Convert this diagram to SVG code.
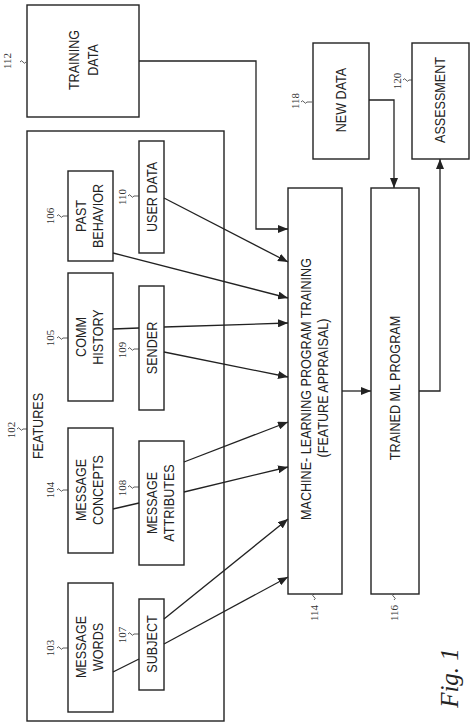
<svg xmlns="http://www.w3.org/2000/svg" width="474" height="728" viewBox="0 0 474 728">
<defs>
<style>
.box{fill:#fff;stroke:#222;stroke-width:1.4}
.t{font-family:"Liberation Sans",Arial,sans-serif;font-size:12.6px;fill:#222;text-anchor:middle;dominant-baseline:central}
.ref{font-family:"Liberation Serif",serif;font-size:11px;fill:#333;text-anchor:middle;dominant-baseline:central}
.sq{fill:none;stroke:#333;stroke-width:0.8}
.ln{fill:none;stroke:#222;stroke-width:1.3}
.fig{font-family:"Liberation Serif",serif;font-style:italic;font-size:25px;fill:#222;text-anchor:middle;dominant-baseline:central}
</style>
<marker id="ah" viewBox="0 0 10 8" refX="10" refY="4" markerWidth="10" markerHeight="8" markerUnits="userSpaceOnUse" orient="auto">
<path d="M0,0 L10,4 L0,8 Z" fill="#222"/>
</marker>
</defs>
<rect width="474" height="728" fill="#fff"/>

<g id="training-data">
<rect class="box" x="27" y="5" width="112" height="112"/>
<text class="t" transform="translate(74,60) rotate(-90) scale(1,1.12)">TRAINING</text>
<text class="t" transform="translate(93,60) rotate(-90) scale(1,1.12)">DATA</text>
<text class="ref" transform="translate(7,61) rotate(-90)">112</text>
<path class="sq" d="M20,62 q1.5,-2.5 3,0 t3,0"/>
</g>

<g id="features">
<rect class="box" x="27" y="131" width="197" height="590"/>
<text class="t" transform="translate(38,426) rotate(-90) scale(1,1.12)">FEATURES</text>
<text class="ref" transform="translate(11,430) rotate(-90)">102</text>
<path class="sq" d="M17,429 q1.5,-2.5 3,0 t3,0 l4,0"/>
</g>

<g id="past-behavior">
<rect class="box" x="68" y="171" width="45" height="90"/>
<text class="t" transform="translate(81,216) rotate(-90) scale(1,1.12)">PAST</text>
<text class="t" transform="translate(98,216) rotate(-90) scale(1,1.12)">BEHAVIOR</text>
<text class="ref" transform="translate(50,216) rotate(-90)">106</text>
<path class="sq" d="M57,216 q1.5,-2.5 3,0 t3,0 l5,0"/>
</g>

<g id="user-data">
<rect class="box" x="139" y="141" width="25" height="112"/>
<text class="t" transform="translate(152,197) rotate(-90) scale(1,1.12)">USER DATA</text>
<text class="ref" transform="translate(122,197) rotate(-90)">110</text>
<path class="sq" d="M128,196 q1.5,-2.5 3,0 t3,0 l5,0"/>
</g>

<g id="comm-history">
<rect class="box" x="68" y="273" width="45" height="128"/>
<text class="t" transform="translate(81,337) rotate(-90) scale(1,1.12)">COMM</text>
<text class="t" transform="translate(98,337) rotate(-90) scale(1,1.12)">HISTORY</text>
<text class="ref" transform="translate(50,338) rotate(-90)">105</text>
<path class="sq" d="M57,338 q1.5,-2.5 3,0 t3,0 l5,0"/>
</g>

<g id="sender">
<rect class="box" x="139" y="286" width="25" height="124"/>
<text class="t" transform="translate(152,348) rotate(-90) scale(1,1.12)">SENDER</text>
<text class="ref" transform="translate(122,350) rotate(-90)">109</text>
<path class="sq" d="M128,349 q1.5,-2.5 3,0 t3,0 l5,0"/>
</g>

<g id="message-concepts">
<rect class="box" x="68" y="428" width="45" height="125"/>
<text class="t" transform="translate(81,490) rotate(-90) scale(1,1.12)">MESSAGE</text>
<text class="t" transform="translate(98,490) rotate(-90) scale(1,1.12)">CONCEPTS</text>
<text class="ref" transform="translate(50,490) rotate(-90)">104</text>
<path class="sq" d="M57,490 q1.5,-2.5 3,0 t3,0 l5,0"/>
</g>

<g id="message-attributes">
<rect class="box" x="139" y="441" width="45" height="124"/>
<text class="t" transform="translate(152,503) rotate(-90) scale(1,1.12)">MESSAGE</text>
<text class="t" transform="translate(169,503) rotate(-90) scale(1,1.12)">ATTRIBUTES</text>
<text class="ref" transform="translate(122,488) rotate(-90)">108</text>
<path class="sq" d="M128,487 q1.5,-2.5 3,0 t3,0 l5,0"/>
</g>

<g id="message-words">
<rect class="box" x="68" y="583" width="45" height="129"/>
<text class="t" transform="translate(81,647) rotate(-90) scale(1,1.12)">MESSAGE</text>
<text class="t" transform="translate(98,647) rotate(-90) scale(1,1.12)">WORDS</text>
<text class="ref" transform="translate(50,648) rotate(-90)">103</text>
<path class="sq" d="M57,648 q1.5,-2.5 3,0 t3,0 l5,0"/>
</g>

<g id="subject">
<rect class="box" x="139" y="599" width="25" height="91"/>
<text class="t" transform="translate(152,644) rotate(-90) scale(1,1.12)">SUBJECT</text>
<text class="ref" transform="translate(122,635) rotate(-90)">107</text>
<path class="sq" d="M128,634 q1.5,-2.5 3,0 t3,0 l5,0"/>
</g>

<g id="ml-training">
<rect class="box" x="288" y="188" width="54" height="406"/>
<text class="t" transform="translate(306,389) rotate(-90) scale(1,1.12)">MACHINE- LEARNING PROGRAM TRAINING</text>
<text class="t" transform="translate(323,388) rotate(-90) scale(1,1.12)">(FEATURE APPRAISAL)</text>
<text class="ref" transform="translate(314,613) rotate(-90)">114</text>
<path class="sq" d="M314,594 q-2.5,1.5 0,3 t0,3"/>
</g>

<g id="trained-ml">
<rect class="box" x="371" y="188" width="48" height="406"/>
<text class="t" transform="translate(395,388) rotate(-90) scale(1,1.12)">TRAINED ML PROGRAM</text>
<text class="ref" transform="translate(394,613) rotate(-90)">116</text>
<path class="sq" d="M394,594 q-2.5,1.5 0,3 t0,3"/>
</g>

<g id="new-data">
<rect class="box" x="313" y="43" width="56" height="116"/>
<text class="t" transform="translate(341,100) rotate(-90) scale(1,1.12)">NEW DATA</text>
<text class="ref" transform="translate(295,101) rotate(-90)">118</text>
<path class="sq" d="M301,102 q1.5,-2.5 3,0 t3,0 l5,0"/>
</g>

<g id="assessment">
<rect class="box" x="412" y="43" width="57" height="116"/>
<text class="t" transform="translate(440,100) rotate(-90) scale(1,1.12)">ASSESSMENT</text>
<text class="ref" transform="translate(397,81) rotate(-90)">120</text>
<path class="sq" d="M403,80 q1.5,-2.5 3,0 t3,0 l3,0"/>
</g>

<g id="connectors">
<path class="ln" d="M139,61 H256 V229 H288" marker-end="url(#ah)"/>
<path class="ln" d="M164,198 L288,262" marker-end="url(#ah)"/>
<path class="ln" d="M113,253 L288,298" marker-end="url(#ah)"/>
<path class="ln" d="M113,329 L139,328"/>
<path class="ln" d="M164,327 L288,323" marker-end="url(#ah)"/>
<path class="ln" d="M164,352 L288,377" marker-end="url(#ah)"/>
<path class="ln" d="M113,509 L139,503"/>
<path class="ln" d="M184,462 L288,422" marker-end="url(#ah)"/>
<path class="ln" d="M184,492 L288,467" marker-end="url(#ah)"/>
<path class="ln" d="M113,672 L139,659"/>
<path class="ln" d="M164,619 L288,519" marker-end="url(#ah)"/>
<path class="ln" d="M164,644 L288,577" marker-end="url(#ah)"/>
<path class="ln" d="M342,391 H371" marker-end="url(#ah)"/>
<path class="ln" d="M369,100 H394 V188" marker-end="url(#ah)"/>
<path class="ln" d="M419,391 H440 V159" marker-end="url(#ah)"/>
</g>

<text class="fig" transform="translate(449,678) rotate(-90)">Fig. 1</text>
</svg>
